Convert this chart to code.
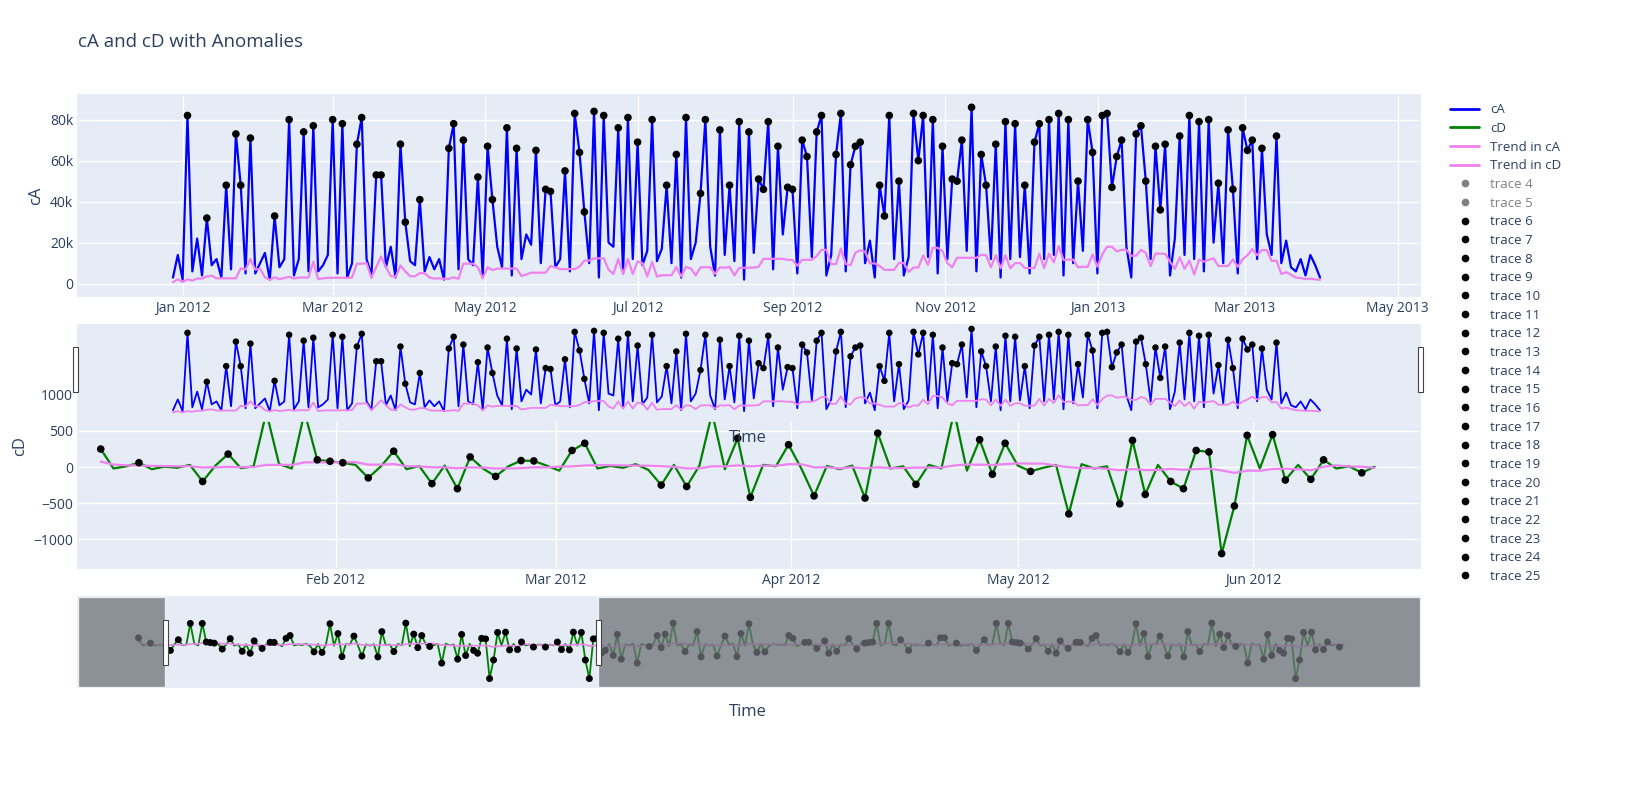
import numpy as np, pandas as pd, seaborn as sns, matplotlib
matplotlib.use("Agg")
import matplotlib.pyplot as plt
from matplotlib.lines import Line2D
from matplotlib.patches import Rectangle

# ---- data ----
cA_k = [3,14,2,82,6,22,4,32,9,12,3,48,7,73,48,5,71,5,10,15,2,33,8,12,80,4,12,74,6,77,6,9,14,80,5,78,3,10,68,81,12,4,53,53,8,18,3,68,30,11,9,41,6,13,7,12,2,66,78,7,70,12,9,52,3,67,41,18,8,76,4,66,12,24,19,65,10,46,45,8,12,55,6,83,64,35,10,84,3,82,20,18,76,5,81,12,69,9,16,80,11,17,48,10,63,3,81,12,20,44,80,18,4,75,14,48,11,79,2,74,15,51,46,79,7,67,24,47,46,5,70,62,13,74,82,4,14,63,83,6,58,67,69,10,21,3,48,33,82,12,50,4,13,83,60,82,13,80,5,67,12,51,50,70,16,86,6,63,48,12,68,3,79,12,78,13,48,5,69,78,12,80,14,83,4,80,10,50,16,80,64,5,82,83,47,62,70,18,3,73,77,50,12,67,36,68,4,22,72,14,82,12,79,6,80,20,49,10,75,46,5,76,65,70,12,66,24,14,72,10,21,8,6,12,4,14,9,3]
cD_vals = [250,-20,10,60,-30,5,-10,30,-200,20,180,-15,10,760,40,-20,760,100,80,60,30,-150,10,220,-30,15,-230,20,-300,140,-20,-130,10,90,85,20,-50,230,330,-20,15,-10,40,-40,-250,30,-270,20,750,-30,400,-420,30,10,310,-20,-400,15,-30,20,-430,470,-20,10,-240,30,-20,770,-50,380,-100,330,20,-60,-10,30,-650,40,-20,10,-510,370,-380,30,-200,-300,230,210,-1200,-540,440,-20,450,-180,30,-170,100,-20,10,-80,5]
yticks_cA = [0, 20000, 40000, 60000, 80000]
yticklabels_cA = ["0", "20k", "40k", "60k", "80k"]
yticks_cD = [-1000, -500, 0, 500, 1000]
legend_names = ["cA", "cD", "Trend in cA", "Trend in cD", "trace 4", "trace 5"] + [f"trace {i}" for i in range(6, 26)]

cA = np.array(cA_k) * 1000.0
tA = pd.date_range("2011-12-28", "2013-03-31", periods=len(cA))
dfA = pd.DataFrame({"t": tA, "v": cA, "trend": pd.Series(cA).rolling(6, min_periods=1).median() * 0.25})
anA = dfA[(dfA.v >= 30000)]
tD = pd.date_range("2012-01-01", "2012-06-17", periods=len(cD_vals))
dfD = pd.DataFrame({"t": tD, "v": cD_vals, "trend": pd.Series(cD_vals).rolling(8, min_periods=1).mean() * 0.3})
anD = dfD[dfD.v.abs() >= 60]

BG = "#E5ECF6"; TXT = "#2a3f5f"
sns.set_theme(style="darkgrid", rc={"axes.facecolor": BG, "grid.color": "white", "axes.edgecolor": BG})
plt.rcParams["font.family"] = ["Open Sans", "DejaVu Sans"]
fig = plt.figure(figsize=(16.43, 8), dpi=100)
W, H = 1643, 800
def ax_px(x0, y0, x1, y1):
    return fig.add_axes([x0 / W, 1 - y1 / H, (x1 - x0) / W, (y1 - y0) / H])

def draw_A(ax, lw=1.6, ms=30):
    sns.lineplot(data=dfA, x="t", y="v", color="blue", lw=lw, ax=ax)
    sns.lineplot(data=dfA, x="t", y="trend", color="violet", lw=lw, ax=ax)
    sns.scatterplot(data=anA, x="t", y="v", color="black", s=ms, ax=ax, zorder=5, edgecolor="none")
def draw_D(ax, lw=1.6, ms=30):
    sns.lineplot(data=dfD, x="t", y="v", color="green", lw=lw, ax=ax)
    sns.lineplot(data=dfD, x="t", y="trend", color="violet", lw=lw, ax=ax)
    sns.scatterplot(data=anD, x="t", y="v", color="black", s=ms, ax=ax, zorder=5, edgecolor="none")

ax1 = ax_px(78, 95, 1420, 296)
draw_A(ax1)
ax1.set_xlim(pd.Timestamp("2011-11-20"), pd.Timestamp("2013-05-10"))
ax1.set_ylim(-6000, 92000)
ax1.set_yticks(yticks_cA); ax1.set_yticklabels(yticklabels_cA)
ax1.xaxis.set_major_locator(matplotlib.dates.MonthLocator(bymonth=[1, 3, 5, 7, 9, 11]))
ax1.xaxis.set_major_formatter(matplotlib.dates.DateFormatter("%b %Y"))
ax1.set_xlabel(""); ax1.set_ylabel("cA", color=TXT, fontsize=12)

ax2 = ax_px(78, 325, 1420, 568)
draw_D(ax2)
ax2.set_xlim(pd.Timestamp("2011-12-29"), pd.Timestamp("2012-06-23"))
ax2.set_ylim(-1400, 1970)
ax2.set_yticks(yticks_cD)
ax2.xaxis.set_major_locator(matplotlib.dates.MonthLocator(bymonth=[2, 3, 4, 5, 6]))
ax2.xaxis.set_major_formatter(matplotlib.dates.DateFormatter("%b %Y"))
ax2.set_xlabel(""); ax2.set_ylabel("cD", color=TXT, fontsize=12)

for ax in (ax1, ax2):
    ax.tick_params(colors=TXT, labelsize=10, length=0)

ax3 = ax_px(78, 325, 1420, 421)
ax3.set_facecolor(BG); ax3.grid(False)
draw_A(ax3, lw=1.3, ms=22)
ax3.set_xlim(ax1.get_xlim()); ax3.set_ylim(-8000, 90000)
ax3.set_xticks([]); ax3.set_yticks([]); ax3.set_xlabel(""); ax3.set_ylabel("")
for x in (73, 1418):
    fig.patches.append(Rectangle((x / W, 1 - 392 / H), 5 / W, 45 / H, transform=fig.transFigure,
                                 facecolor="white", edgecolor="#444", lw=0.8, zorder=10))
fig.text(748 / W, 1 - 438 / H, "Time", color=TXT, fontsize=12, ha="center", va="center")

ax4 = ax_px(78, 597, 1420, 687)
ax4.set_facecolor(BG); ax4.grid(False)
xs = np.arange(len(cD_vals))
dfS = pd.DataFrame({"i": np.concatenate([xs, xs + len(xs), xs + 2 * len(xs)]),
                    "v": np.concatenate([cD_vals, cD_vals[::-1], cD_vals])})
dfS["tr"] = dfS.v.rolling(8, min_periods=1).mean() * 0.3
sns.lineplot(data=dfS, x="i", y="v", color="green", lw=1.3, ax=ax4)
sns.lineplot(data=dfS, x="i", y="tr", color="violet", lw=1.2, ax=ax4)
sns.scatterplot(data=dfS[dfS.v.abs() >= 60], x="i", y="v", color="black", s=25, ax=ax4, zorder=5, edgecolor="none")
n = len(dfS)
ax4.set_xlim(-n * 0.05, n * 1.06); ax4.set_ylim(-1500, 1700)
ax4.set_xticks([]); ax4.set_yticks([]); ax4.set_xlabel(""); ax4.set_ylabel("")
for x0, x1 in ((78, 165), (598, 1420)):
    fig.patches.append(Rectangle((x0 / W, 1 - 687 / H), (x1 - x0) / W, 90 / H, transform=fig.transFigure,
                                 facecolor="#6e7178", alpha=0.75, zorder=8))
for x in (163, 596):
    fig.patches.append(Rectangle((x / W, 1 - 665 / H), 5 / W, 45 / H, transform=fig.transFigure,
                                 facecolor="white", edgecolor="#444", lw=0.8, zorder=10))
fig.text(748 / W, 1 - 712 / H, "Time", color=TXT, fontsize=12, ha="center", va="center")

fig.text(78 / W, 1 - 42 / H, "cA and cD with Anomalies", color=TXT, fontsize=13.5, va="center")

handles = [Line2D([], [], color="blue", lw=2), Line2D([], [], color="green", lw=2),
           Line2D([], [], color="violet", lw=2), Line2D([], [], color="violet", lw=2)]
handles += [Line2D([], [], ls="", marker="o", ms=4.5, color="grey")] * 2
handles += [Line2D([], [], ls="", marker="o", ms=4.5, color="black")] * 20
leg = fig.legend(handles, legend_names, loc="upper left", bbox_to_anchor=(1445 / W, 1 - 98 / H),
                 frameon=False, fontsize=9.5, handlelength=2.2, labelspacing=0.43, borderaxespad=0)
for i, t in enumerate(leg.get_texts()):
    t.set_color("grey" if i in (4, 5) else TXT)

fig.savefig("out.png", dpi=100, facecolor="white")
